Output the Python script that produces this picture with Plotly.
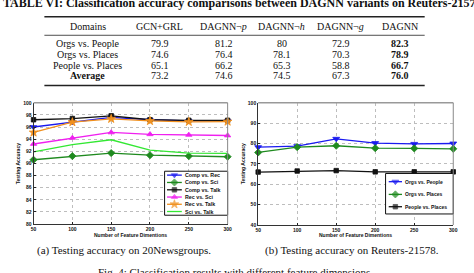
import plotly.graph_objects as go

W, H = 474, 273

# ---------------- data ----------------
dims = [50, 100, 150, 200, 250, 300]

news_names = ["Comp vs. Rec", "Comp vs. Sci", "Comp vs. Talk", "Rec vs. Sci", "Rec vs. Talk", "Sci vs. Talk"]
comp_rec = [96.0, 96.8, 97.6, 97.2, 97.0, 97.0]
comp_sci = [90.6, 91.2, 91.7, 91.35, 91.2, 91.1]
comp_talk = [97.2, 97.4, 97.85, 97.2, 97.1, 97.1]
rec_sci = [93.2, 94.2, 95.1, 94.8, 94.7, 94.6]
rec_talk = [95.1, 96.8, 97.35, 97.0, 96.85, 96.9]
sci_talk = [91.9, 93.1, 93.9, 92.2, 91.7, 91.65]

reuters_names = ["Orgs vs. People", "Orgs vs. Places", "People vs. Places"]
orgs_people = [78.2, 78.7, 82.3, 80.2, 79.8, 80.0]
orgs_places = [75.6, 78.2, 78.9, 77.7, 77.6, 77.4]
people_places = [66.0, 66.5, 66.7, 66.1, 66.1, 66.1]

left_yticks = [80, 82, 84, 86, 88, 90, 92, 94, 96, 98, 100]
right_yticks = [40, 50, 60, 70, 80, 90, 100]

table_cols = ["Domains", "GCN+GRL", "DAGNN\u00ac<i>p</i>", "DAGNN\u00ac<i>h</i>", "DAGNN\u00ac<i>g</i>", "DAGNN"]
table_rows = ["Orgs vs. People", "Orgs vs. Places", "People vs. Places", "Average"]
gcn_grl = ["79.9", "74.6", "65.1", "73.2"]
dagnn_np = ["81.2", "76.4", "66.2", "74.6"]
dagnn_nh = ["80", "78.1", "65.3", "74.5"]
dagnn_ng = ["72.9", "70.3", "58.8", "67.3"]
dagnn_full = ["82.3", "78.9", "66.7", "76.0"]

table_title = "TABLE VI: Classification accuracy comparisons between DAGNN variants on Reuters-21578"
cap_a = "(a) Testing accuracy on 20Newsgroups."
cap_b = "(b) Testing accuracy on Reuters-21578."
fig_cap = "Fig. 4: Classification results with different feature dimensions."
x_title = "Number of Feature Dimentions"
y_title = "Testing Accuracy"

# ---------------- styles ----------------
news_series = [comp_rec, comp_sci, comp_talk, rec_sci, rec_talk, sci_talk]
news_style = [
    dict(color="#1a1af0", symbol="triangle-down", size=5.5),
    dict(color="#1f8a1f", symbol="diamond", size=5.5),
    dict(color="#111111", symbol="square", size=4.5),
    dict(color="#f020f0", symbol="triangle-up", size=5.5),
    dict(color="#f0901e", symbol="star", size=6.5),
    dict(color="#33e833", symbol=None, size=0),
]
reuters_series = [orgs_people, orgs_places, people_places]
reuters_style = [
    dict(color="#1a1af0", symbol="triangle-down", size=6),
    dict(color="#1f8a1f", symbol="diamond", size=5.5),
    dict(color="#111111", symbol="square", size=4.5),
]

SERIF = "Liberation Serif, Times New Roman, serif"
SANS = "Liberation Sans, Arial, sans-serif"


def px(x):
    return x / W


def py(y):
    return 1 - y / H


fig = go.Figure()


def add_series(xs, ys, name, st, xa, ya):
    mode = "lines+markers" if st["symbol"] else "lines"
    fig.add_trace(go.Scatter(
        x=xs, y=ys, name=name, mode=mode, xaxis=xa, yaxis=ya,
        line=dict(color=st["color"], width=1.3),
        marker=dict(symbol=st["symbol"] or "circle", size=st["size"], color=st["color"],
                    line=dict(color=st["color"], width=0.8)),
        showlegend=False, cliponaxis=False))


for name, ys, st in zip(news_names, news_series, news_style):
    add_series(dims, ys, name, st, "x", "y")
for name, ys, st in zip(reuters_names, reuters_series, reuters_style):
    add_series(dims, ys, name, st, "x2", "y2")

# ---------------- legends (drawn on a pixel overlay axis) ----------------
shapes = []
annotations = []


def draw_legend(box, rows, names, styles, line_x, text_x, fsize):
    x0, y0, x1, y1 = box
    shapes.append(dict(type="rect", xref="x3", yref="y3", x0=x0, y0=y0, x1=x1, y1=y1,
                       fillcolor="white", line=dict(color="#111", width=1), layer="below"))
    for ry, name, st in zip(rows, names, styles):
        mode = "lines+markers" if st["symbol"] else "lines"
        mx = (line_x[0] + line_x[1]) / 2
        fig.add_trace(go.Scatter(
            x=[line_x[0], mx, line_x[1]], y=[ry, ry, ry], mode=mode, xaxis="x3", yaxis="y3",
            line=dict(color=st["color"], width=1.3),
            marker=dict(symbol=st["symbol"] or "circle", size=[0, st["size"], 0], color=st["color"],
                        line=dict(color=st["color"], width=0.8)),
            showlegend=False, hoverinfo="skip"))
        annotations.append(dict(xref="paper", yref="paper", x=px(text_x), y=py(ry), text=name,
                                showarrow=False, xanchor="left", yanchor="middle",
                                font=dict(family=SANS, size=fsize, color="#111", weight="bold")))


draw_legend((164, 172, 228, 217), [176, 183.5, 191, 198.4, 205.8, 213.2], news_names, news_style,
            (166.5, 181.5), 182.5, 5.3)
draw_legend((388.3, 174.3, 457, 215.7), [182.7, 195.7, 208.3], reuters_names, reuters_style,
            (391.5, 405), 405.8, 5.0)

# ---------------- axes ----------------
tickfont = dict(family=SANS, size=5, color="#111", weight="bold")
common_x = dict(range=[50, 300], tickvals=dims, ticks="inside", ticklen=2, tickcolor="#222",
                showline=True, linecolor="#333", linewidth=1, showgrid=True, gridcolor="#bdbdbd",
                griddash="dot", gridwidth=0.7, zeroline=False, tickfont=tickfont, fixedrange=True)
common_y = dict(ticks="inside", ticklen=2, tickcolor="#222", showline=True, linecolor="#333",
                linewidth=1, showgrid=True, gridcolor="#bdbdbd", griddash="dot", gridwidth=0.7,
                zeroline=False, tickfont=tickfont, fixedrange=True)

L = (31, 102, 228, 226)
R = (259, 102, 457, 227)

fig.update_layout(
    xaxis=dict(domain=[px(L[0]), px(L[2])], anchor="y", **common_x),
    yaxis=dict(domain=[py(L[3]), py(L[1])], anchor="x", range=[80, 100], tickvals=left_yticks, **common_y),
    xaxis2=dict(domain=[px(R[0]), px(R[2])], anchor="y2", **common_x),
    yaxis2=dict(domain=[py(R[3]), py(R[1])], anchor="x2", range=[40, 100], tickvals=right_yticks, **common_y),
    xaxis3=dict(domain=[0, 1], anchor="y3", range=[0, W], visible=False, fixedrange=True),
    yaxis3=dict(domain=[0, 1], anchor="x3", range=[H, 0], visible=False, fixedrange=True),
)

# top/right frame lines
for (x0, y0, x1, y1) in (L, R):
    shapes.append(dict(type="line", xref="paper", yref="paper", x0=px(x0), x1=px(x1), y0=py(y0), y1=py(y0),
                       line=dict(color="#999", width=1.6), layer="above"))
    shapes.append(dict(type="line", xref="paper", yref="paper", x0=px(x1), x1=px(x1), y0=py(y0), y1=py(y1),
                       line=dict(color="#888", width=1), layer="above"))

# axis titles
axfont = dict(family=SANS, size=5, color="#111", weight="bold")
annotations += [
    dict(x=px(129.5), y=py(236.8), text=x_title, font=axfont),
    dict(x=px(357.5), y=py(236.8), text=x_title, font=axfont),
    dict(x=px(16), y=py(164), text=y_title, font=axfont, textangle=-90),
    dict(x=px(243.5), y=py(164), text=y_title, font=axfont, textangle=-90),
]

# captions
capfont = dict(family=SERIF, size=11, color="#111")
annotations += [
    dict(x=px(122.5), y=py(253), text=cap_a, font=capfont),
    dict(x=px(354.5), y=py(253), text=cap_b, font=capfont),
    dict(x=px(236), y=py(275.5), text=fig_cap, font=capfont),
    dict(x=px(-2), y=py(0.5), text=table_title, font=dict(family=SERIF, size=12, color="#111", weight="bold"),
         xanchor="left"),
]

# ---------------- table ----------------
col_x = [86, 159, 224, 283, 343, 403]
head_y = 24
row_y = [41.8, 52.6, 63.4, 74.4]
tfont = dict(family=SERIF, size=10, color="#111")
tbold = dict(family=SERIF, size=10, color="#111", weight="bold")
for cx, t in zip(col_x, table_cols):
    annotations.append(dict(x=px(cx), y=py(head_y), text=t, font=tfont))
columns = [table_rows, gcn_grl, dagnn_np, dagnn_nh, dagnn_ng, dagnn_full]
for ci, (cx, col) in enumerate(zip(col_x, columns)):
    for ri, (ry, t) in enumerate(zip(row_y, col)):
        bold = (ci == len(columns) - 1) or (ci == 0 and ri == len(row_y) - 1)
        annotations.append(dict(x=px(cx), y=py(ry), text=t, font=tbold if bold else tfont))

for yy, wdt in ((14, 1.4), (33, 0.8), (84.3, 1.4)):
    shapes.append(dict(type="line", xref="paper", yref="paper", x0=px(42), x1=px(428), y0=py(yy), y1=py(yy),
                       line=dict(color="#222", width=wdt), layer="above"))

for a in annotations:
    a.setdefault("xref", "paper")
    a.setdefault("yref", "paper")
    a.setdefault("showarrow", False)
    a.setdefault("xanchor", "center")
    a.setdefault("yanchor", "middle")

fig.update_layout(
    width=W, height=H, margin=dict(l=0, r=0, t=0, b=0),
    paper_bgcolor="white", plot_bgcolor="rgba(0,0,0,0)",
    showlegend=False, shapes=shapes, annotations=annotations,
)

fig.write_html("out.html", config={"displayModeBar": False})
